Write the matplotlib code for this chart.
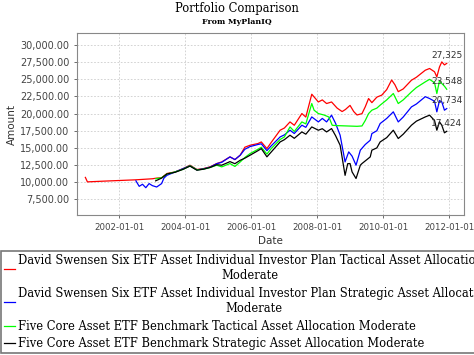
import matplotlib
matplotlib.use("Agg")
import matplotlib.pyplot as plt
import matplotlib.dates as mdates
from matplotlib.ticker import FuncFormatter, MultipleLocator
from datetime import datetime, timedelta

# values (decimal year, amount)
red_t = [2000.97, 2001.03, 2001.5, 2002.0, 2002.5, 2003.0, 2003.13, 2003.28, 2003.44, 2003.69,
         2003.94, 2004.14, 2004.35, 2004.55, 2004.75, 2004.95, 2005.1, 2005.35, 2005.5, 2005.66,
         2005.8, 2005.96, 2006.2, 2006.3, 2006.47, 2006.6, 2006.87, 2007.0, 2007.17, 2007.3,
         2007.53, 2007.65, 2007.83, 2008.03, 2008.15, 2008.28, 2008.43, 2008.6, 2008.75, 2008.85,
         2008.99, 2009.1, 2009.2, 2009.35, 2009.45, 2009.55, 2009.65, 2009.8, 2009.95, 2010.1,
         2010.25, 2010.35, 2010.45, 2010.6, 2010.85, 2011.0, 2011.27, 2011.4, 2011.55, 2011.62,
         2011.7, 2011.77, 2011.85, 2011.92]
red_v = [10700, 10050, 10150, 10250, 10350, 10500, 10600, 10650, 11270, 11500,
         12000, 12480, 11850, 11990, 12240, 12720, 12960, 13690, 13300, 13940,
         15100, 15390, 15640, 15870, 14900, 15800, 17580, 17900, 18790, 18300,
         20010, 19500, 22830, 21700, 22000, 21470, 21700, 20800, 20300, 20600,
         21200, 20300, 19800, 20000, 21000, 22200, 21600, 22400, 22700, 23500,
         24900, 24200, 23200, 23600, 24870, 25300, 26330, 26580, 26100, 25350,
         26800, 27540, 27100, 27325]

blue_t = [2002.5, 2002.6, 2002.7, 2002.8, 2002.9, 2003.0, 2003.13, 2003.28, 2003.35, 2003.44,
          2003.69, 2003.94, 2004.14, 2004.35, 2004.55, 2004.75, 2004.95, 2005.1, 2005.35, 2005.5,
          2005.66, 2005.8, 2005.96, 2006.2, 2006.3, 2006.47, 2006.6, 2006.87, 2007.0, 2007.17,
          2007.3, 2007.53, 2007.65, 2007.83, 2008.03, 2008.15, 2008.28, 2008.43, 2008.55, 2008.69,
          2008.84, 2008.95, 2009.05, 2009.17, 2009.3, 2009.45, 2009.6, 2009.65, 2009.8, 2009.9,
          2010.1, 2010.3, 2010.45, 2010.6, 2010.85, 2011.0, 2011.27, 2011.4, 2011.55, 2011.62,
          2011.7, 2011.77, 2011.85, 2011.92]
blue_v = [10200, 9400, 9700, 9200, 9800, 9500, 9300, 9800, 10600, 11000,
          11500, 12000, 12400, 11800, 11950, 12200, 12700, 12900, 13690, 13300,
          13940, 14800, 15200, 15500, 15600, 14600, 15300, 16600, 16900, 17580,
          17100, 18310, 18000, 19520, 18790, 19300, 18790, 19770, 18600, 16850,
          12960, 14420, 13800, 12480, 14670, 15500, 16120, 17090, 17500, 18550,
          19300, 20260, 18790, 19500, 20980, 21400, 22470, 22200, 21800, 20260,
          21900, 21710, 20500, 20734]

green_t = [2003.1, 2003.28, 2003.44, 2003.69, 2003.94, 2004.14, 2004.35, 2004.55, 2004.75, 2004.95,
           2005.1, 2005.35, 2005.5, 2005.66, 2005.8, 2005.96, 2006.2, 2006.3, 2006.47, 2006.6,
           2006.87, 2007.0, 2007.17, 2007.3, 2007.53, 2007.65, 2007.83, 2007.9, 2008.03, 2008.2,
           2008.35, 2008.45, 2008.6, 2008.9, 2009.2, 2009.35, 2009.45, 2009.55, 2009.65, 2009.8,
           2009.9, 2010.1, 2010.3, 2010.45, 2010.6, 2010.85, 2011.0, 2011.27, 2011.4, 2011.55,
           2011.62, 2011.7, 2011.77, 2011.85, 2011.92]
green_v = [10500, 10650, 11200, 11500, 11900, 12400, 11800, 11900, 12150, 12480,
           12240, 12720, 12300, 12960, 13600, 14180, 14800, 15100, 14100, 14900,
           16230, 16600, 18060, 17400, 18790, 18500, 21470, 20500, 20010, 19800,
           19500, 18300, 18250, 18200, 18150, 18200, 19000, 20000, 20500, 20800,
           21230, 22000, 22930, 21470, 22000, 23170, 23800, 24630, 25000, 24500,
           22930, 24800, 24390, 24000, 23548]

black_t = [2003.1, 2003.28, 2003.44, 2003.69, 2003.94, 2004.14, 2004.35, 2004.55, 2004.75, 2004.95,
           2005.1, 2005.35, 2005.5, 2005.66, 2005.8, 2005.96, 2006.2, 2006.3, 2006.47, 2006.6,
           2006.87, 2007.0, 2007.17, 2007.3, 2007.53, 2007.65, 2007.83, 2008.03, 2008.15, 2008.28,
           2008.43, 2008.55, 2008.69, 2008.84, 2008.92, 2008.99, 2009.05, 2009.17, 2009.3, 2009.35,
           2009.5, 2009.6, 2009.65, 2009.8, 2009.9, 2010.1, 2010.3, 2010.45, 2010.6, 2010.85,
           2011.0, 2011.27, 2011.4, 2011.55, 2011.62, 2011.7, 2011.77, 2011.85, 2011.92]
black_v = [10200, 10600, 11200, 11450, 11900, 12350, 11750, 11900, 12150, 12550,
           12480, 13000, 12700, 13200, 13500, 13940, 14600, 14900, 13700, 14400,
           15870, 16200, 16850, 16400, 17330, 17000, 18060, 17580, 17800, 17330,
           17820, 16800, 15390, 11000, 12700, 12720, 11500, 10540, 12480, 12720,
           13300, 13690, 14670, 15000, 15870, 16500, 17580, 16370, 17000, 18310,
           18900, 19520, 19770, 19000, 17580, 18800, 18310, 17200, 17424]

labels = [
    "David Swensen Six ETF Asset Individual Investor Plan Tactical Asset Allocation\nModerate",
    "David Swensen Six ETF Asset Individual Investor Plan Strategic Asset Allocation\nModerate",
    "Five Core Asset ETF Benchmark Tactical Asset Allocation Moderate",
    "Five Core Asset ETF Benchmark Strategic Asset Allocation Moderate",
]
colors = ["#ff0000", "#0000ff", "#00ff00", "#000000"]


def to_date(y):
    yr = int(y)
    return datetime(yr, 1, 1) + timedelta(days=(y - yr) * 365.25)


fig = plt.figure(figsize=(4.74, 3.55), dpi=100)
ax = fig.add_axes([0.162, 0.394, 0.817, 0.512])

series = [(red_t, red_v), (blue_t, blue_v), (green_t, green_v), (black_t, black_v)]
for (t, v), c, lab in zip(series, colors, labels):
    d = [to_date(x) for x in t]
    ax.plot(d, v, color=c, lw=0.9, label=lab)
    ax.annotate(f"{v[-1]:,}", (d[-1], v[-1]), xytext=(0, 8), textcoords="offset pixels",
                ha="center", va="center", fontsize=6.5, color="#333333")

ax.set_xlim(to_date(2000.71), to_date(2012.445))
ax.set_ylim(5200, 31700)
ax.yaxis.set_major_locator(MultipleLocator(2500))
ax.yaxis.set_major_formatter(FuncFormatter(lambda v, p: f"{v:,.2f}" if v >= 7500 else ""))
ax.xaxis.set_major_locator(mdates.YearLocator(2))
ax.xaxis.set_major_formatter(mdates.DateFormatter("%Y-%m-%d"))
ax.grid(True, color="#cccccc", ls=(0, (2, 2)), lw=0.6)
for s in ax.spines.values():
    s.set_color("#888888")
ax.tick_params(colors="#555555", length=2, width=0.6)
ax.tick_params(axis="y", labelsize=7)
ax.tick_params(axis="x", labelsize=6.2)
for lbl in ax.get_xticklabels() + ax.get_yticklabels():
    lbl.set_color("#444444")
ax.set_ylabel("Amount", fontsize=7.5, color="#333333", labelpad=2)
ax.set_xlabel("Date", fontsize=7.5, color="#333333", labelpad=3)

fig.text(0.5, 0.975, "Portfolio Comparison", ha="center", va="center",
         family="DejaVu Serif", fontsize=8.3)
fig.text(0.5, 0.938, "From MyPlanIQ", ha="center", va="center",
         family="DejaVu Serif", fontsize=5.7, weight="bold")

leg = fig.legend(loc="upper left", bbox_to_anchor=(0.002, 0.293), frameon=True, fancybox=False,
                 prop={"family": "DejaVu Serif", "size": 8.3}, handlelength=1.0,
                 handletextpad=0.2, labelspacing=0.42, borderpad=0.25, borderaxespad=0)
leg.get_frame().set_edgecolor("#555555")
leg.get_frame().set_linewidth(1.2)
for t in leg.get_texts():
    t.set_multialignment("center")

fig.savefig("out.png", dpi=100)
